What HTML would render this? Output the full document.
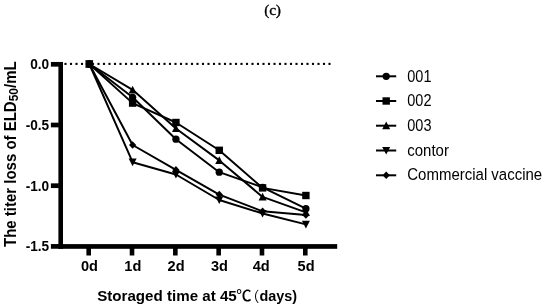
<!DOCTYPE html>
<html><head><meta charset="utf-8"><title>(c)</title>
<style>
html,body{margin:0;padding:0;background:#fff;}
body{width:550px;height:307px;overflow:hidden;}
svg{display:block;}
text{font-family:"Liberation Sans",sans-serif;fill:#000;}
.b{font-weight:bold;}
.tk{font-weight:bold;font-size:14px;}
.lg{font-size:15px;}
</style></head><body>
<svg width="550" height="307" viewBox="0 0 550 307">
<rect width="550" height="307" fill="#fff"/>

<text x="272.5" y="15" text-anchor="middle" style="font-family:'Liberation Serif',serif;font-size:15.5px;stroke:#000;stroke-width:0.35px;letter-spacing:-0.3px">(c)</text>
<g fill="#000">
<rect x="64.45" y="62.85" width="2.1" height="2.1"/>
<rect x="69.95" y="62.85" width="2.1" height="2.1"/>
<rect x="75.45" y="62.85" width="2.1" height="2.1"/>
<rect x="80.95" y="62.85" width="2.1" height="2.1"/>
<rect x="86.45" y="62.85" width="2.1" height="2.1"/>
<rect x="91.95" y="62.85" width="2.1" height="2.1"/>
<rect x="97.45" y="62.85" width="2.1" height="2.1"/>
<rect x="102.95" y="62.85" width="2.1" height="2.1"/>
<rect x="108.45" y="62.85" width="2.1" height="2.1"/>
<rect x="113.95" y="62.85" width="2.1" height="2.1"/>
<rect x="119.45" y="62.85" width="2.1" height="2.1"/>
<rect x="124.95" y="62.85" width="2.1" height="2.1"/>
<rect x="130.45" y="62.85" width="2.1" height="2.1"/>
<rect x="135.95" y="62.85" width="2.1" height="2.1"/>
<rect x="141.45" y="62.85" width="2.1" height="2.1"/>
<rect x="146.95" y="62.85" width="2.1" height="2.1"/>
<rect x="152.45" y="62.85" width="2.1" height="2.1"/>
<rect x="157.95" y="62.85" width="2.1" height="2.1"/>
<rect x="163.45" y="62.85" width="2.1" height="2.1"/>
<rect x="168.95" y="62.85" width="2.1" height="2.1"/>
<rect x="174.45" y="62.85" width="2.1" height="2.1"/>
<rect x="179.95" y="62.85" width="2.1" height="2.1"/>
<rect x="185.45" y="62.85" width="2.1" height="2.1"/>
<rect x="190.95" y="62.85" width="2.1" height="2.1"/>
<rect x="196.45" y="62.85" width="2.1" height="2.1"/>
<rect x="201.95" y="62.85" width="2.1" height="2.1"/>
<rect x="207.45" y="62.85" width="2.1" height="2.1"/>
<rect x="212.95" y="62.85" width="2.1" height="2.1"/>
<rect x="218.45" y="62.85" width="2.1" height="2.1"/>
<rect x="223.95" y="62.85" width="2.1" height="2.1"/>
<rect x="229.45" y="62.85" width="2.1" height="2.1"/>
<rect x="234.95" y="62.85" width="2.1" height="2.1"/>
<rect x="240.45" y="62.85" width="2.1" height="2.1"/>
<rect x="245.95" y="62.85" width="2.1" height="2.1"/>
<rect x="251.45" y="62.85" width="2.1" height="2.1"/>
<rect x="256.95" y="62.85" width="2.1" height="2.1"/>
<rect x="262.45" y="62.85" width="2.1" height="2.1"/>
<rect x="267.95" y="62.85" width="2.1" height="2.1"/>
<rect x="273.45" y="62.85" width="2.1" height="2.1"/>
<rect x="278.95" y="62.85" width="2.1" height="2.1"/>
<rect x="284.45" y="62.85" width="2.1" height="2.1"/>
<rect x="289.95" y="62.85" width="2.1" height="2.1"/>
<rect x="295.45" y="62.85" width="2.1" height="2.1"/>
<rect x="300.95" y="62.85" width="2.1" height="2.1"/>
<rect x="306.45" y="62.85" width="2.1" height="2.1"/>
<rect x="311.95" y="62.85" width="2.1" height="2.1"/>
<rect x="317.45" y="62.85" width="2.1" height="2.1"/>
<rect x="322.95" y="62.85" width="2.1" height="2.1"/>
<rect x="328.45" y="62.85" width="2.1" height="2.1"/>
</g>
<g fill="#000">
<rect x="58.4" y="61.95" width="4.6" height="186.85"/>
<rect x="58.4" y="244.1" width="278.8" height="4.7"/>
<rect x="50.9" y="61.95" width="8" height="4.7"/>
<rect x="50.9" y="122.65" width="8" height="4.7"/>
<rect x="50.9" y="183.35" width="8" height="4.7"/>
<rect x="50.9" y="244.05" width="8" height="4.7"/>
<rect x="86.40" y="248" width="4.6" height="7.5"/>
<rect x="129.72" y="248" width="4.6" height="7.5"/>
<rect x="173.04" y="248" width="4.6" height="7.5"/>
<rect x="216.36" y="248" width="4.6" height="7.5"/>
<rect x="259.68" y="248" width="4.6" height="7.5"/>
<rect x="303.00" y="248" width="4.6" height="7.5"/>
</g>
<text class="tk" x="49.2" y="69.10" text-anchor="end" textLength="19.0" lengthAdjust="spacingAndGlyphs">0.0</text>
<text class="tk" x="49.2" y="129.80" text-anchor="end" textLength="23.5" lengthAdjust="spacingAndGlyphs">-0.5</text>
<text class="tk" x="49.2" y="190.50" text-anchor="end" textLength="23.5" lengthAdjust="spacingAndGlyphs">-1.0</text>
<text class="tk" x="49.2" y="251.20" text-anchor="end" textLength="23.5" lengthAdjust="spacingAndGlyphs">-1.5</text>
<text class="tk" x="89.50" y="270.5" text-anchor="middle" textLength="17" lengthAdjust="spacingAndGlyphs">0d</text>
<text class="tk" x="132.82" y="270.5" text-anchor="middle" textLength="17" lengthAdjust="spacingAndGlyphs">1d</text>
<text class="tk" x="176.14" y="270.5" text-anchor="middle" textLength="17" lengthAdjust="spacingAndGlyphs">2d</text>
<text class="tk" x="219.46" y="270.5" text-anchor="middle" textLength="17" lengthAdjust="spacingAndGlyphs">3d</text>
<text class="tk" x="261.28" y="270.5" text-anchor="middle" textLength="17" lengthAdjust="spacingAndGlyphs">4d</text>
<text class="tk" x="306.10" y="270.5" text-anchor="middle" textLength="17" lengthAdjust="spacingAndGlyphs">5d</text>
<g transform="translate(0,300.5) scale(1,1.0)">
<text class="b" x="97.2" y="0" style="font-size:15px" textLength="139.6" lengthAdjust="spacingAndGlyphs">Storaged time at 45</text>
<text x="236.3" y="0" style="font-size:15.3px;font-weight:500;font-family:'Noto Sans CJK SC',sans-serif">℃</text>
<text x="245.3" y="0" style="font-size:14px;font-family:'Noto Sans CJK SC',sans-serif">（</text>
<text class="b" x="259.4" y="0" style="font-size:15px" textLength="37.6" lengthAdjust="spacingAndGlyphs">days)</text>
</g>
<text class="b" transform="translate(15.6,247.0) rotate(-90) scale(1,1.06)" style="font-size:15px">The titer loss of ELD<tspan style="font-size:12px" dy="2.2">50</tspan><tspan dy="-2.2">/mL</tspan></text>
<g stroke="#000" stroke-width="1.95" fill="none" stroke-linejoin="round">
<polyline points="89.30,64.00 132.62,97.30 175.94,139.20 219.26,172.20 262.58,187.30 305.90,208.70"/>
<polyline points="89.30,64.00 132.62,103.10 175.94,122.50 219.26,150.30 262.58,187.90 305.90,195.50"/>
<polyline points="89.30,64.00 132.62,89.80 175.94,128.50 219.26,160.40 262.58,196.90 305.90,212.40"/>
<polyline points="89.30,64.00 132.62,162.20 175.94,174.50 219.26,200.00 262.58,213.50 305.90,224.40"/>
<polyline points="89.30,64.00 132.62,145.00 175.94,169.90 219.26,194.60 262.58,211.30 305.90,215.00"/>
</g>
<g fill="#000">
<circle cx="89.30" cy="64.00" r="3.65"/>
<circle cx="132.62" cy="97.30" r="3.65"/>
<circle cx="175.94" cy="139.20" r="3.65"/>
<circle cx="219.26" cy="172.20" r="3.65"/>
<circle cx="262.58" cy="187.30" r="3.65"/>
<circle cx="305.90" cy="208.70" r="3.65"/>
<rect x="85.60" y="60.30" width="7.4" height="7.4"/>
<rect x="128.92" y="99.40" width="7.4" height="7.4"/>
<rect x="172.24" y="118.80" width="7.4" height="7.4"/>
<rect x="215.56" y="146.60" width="7.4" height="7.4"/>
<rect x="258.88" y="184.20" width="7.4" height="7.4"/>
<rect x="302.20" y="191.80" width="7.4" height="7.4"/>
<polygon points="89.30,59.90 93.30,67.60 85.30,67.60"/>
<polygon points="132.62,85.70 136.62,93.40 128.62,93.40"/>
<polygon points="175.94,124.40 179.94,132.10 171.94,132.10"/>
<polygon points="219.26,156.30 223.26,164.00 215.26,164.00"/>
<polygon points="262.58,192.80 266.58,200.50 258.58,200.50"/>
<polygon points="305.90,208.30 309.90,216.00 301.90,216.00"/>
<polygon points="89.30,68.10 93.30,60.40 85.30,60.40"/>
<polygon points="132.62,166.30 136.62,158.60 128.62,158.60"/>
<polygon points="175.94,178.60 179.94,170.90 171.94,170.90"/>
<polygon points="219.26,204.10 223.26,196.40 215.26,196.40"/>
<polygon points="262.58,217.60 266.58,209.90 258.58,209.90"/>
<polygon points="305.90,228.50 309.90,220.80 301.90,220.80"/>
<polygon points="89.30,60.20 92.90,64.00 89.30,67.80 85.70,64.00"/>
<polygon points="132.62,141.20 136.22,145.00 132.62,148.80 129.02,145.00"/>
<polygon points="175.94,166.10 179.54,169.90 175.94,173.70 172.34,169.90"/>
<polygon points="219.26,190.80 222.86,194.60 219.26,198.40 215.66,194.60"/>
<polygon points="262.58,207.50 266.18,211.30 262.58,215.10 258.98,211.30"/>
<polygon points="305.90,211.20 309.50,215.00 305.90,218.80 302.30,215.00"/>
</g>
<g stroke="#000" stroke-width="2">
<line x1="376" y1="76.3" x2="396.2" y2="76.3"/>
<line x1="376" y1="101.0" x2="396.2" y2="101.0"/>
<line x1="376" y1="125.7" x2="396.2" y2="125.7"/>
<line x1="376" y1="150.5" x2="396.2" y2="150.5"/>
<line x1="376" y1="175.3" x2="396.2" y2="175.3"/>
</g><g fill="#000">
<circle cx="386.20" cy="76.30" r="3.65"/>
<rect x="382.50" y="97.30" width="7.4" height="7.4"/>
<polygon points="386.20,121.60 390.20,129.30 382.20,129.30"/>
<polygon points="386.20,154.60 390.20,146.90 382.20,146.90"/>
<polygon points="386.20,171.50 389.80,175.30 386.20,179.10 382.60,175.30"/>
</g>
<text class="lg" transform="translate(407.3,81.50) scale(1,1.06)" textLength="24.2" lengthAdjust="spacingAndGlyphs">001</text>
<text class="lg" transform="translate(407.3,106.00) scale(1,1.06)" textLength="24.2" lengthAdjust="spacingAndGlyphs">002</text>
<text class="lg" transform="translate(407.3,130.70) scale(1,1.06)" textLength="24.2" lengthAdjust="spacingAndGlyphs">003</text>
<text class="lg" transform="translate(407.3,155.50) scale(1,1.06)">contor</text>
<text class="lg" transform="translate(407.3,180.10) scale(1,1.06)">Commercial vaccine</text>
</svg></body></html>
